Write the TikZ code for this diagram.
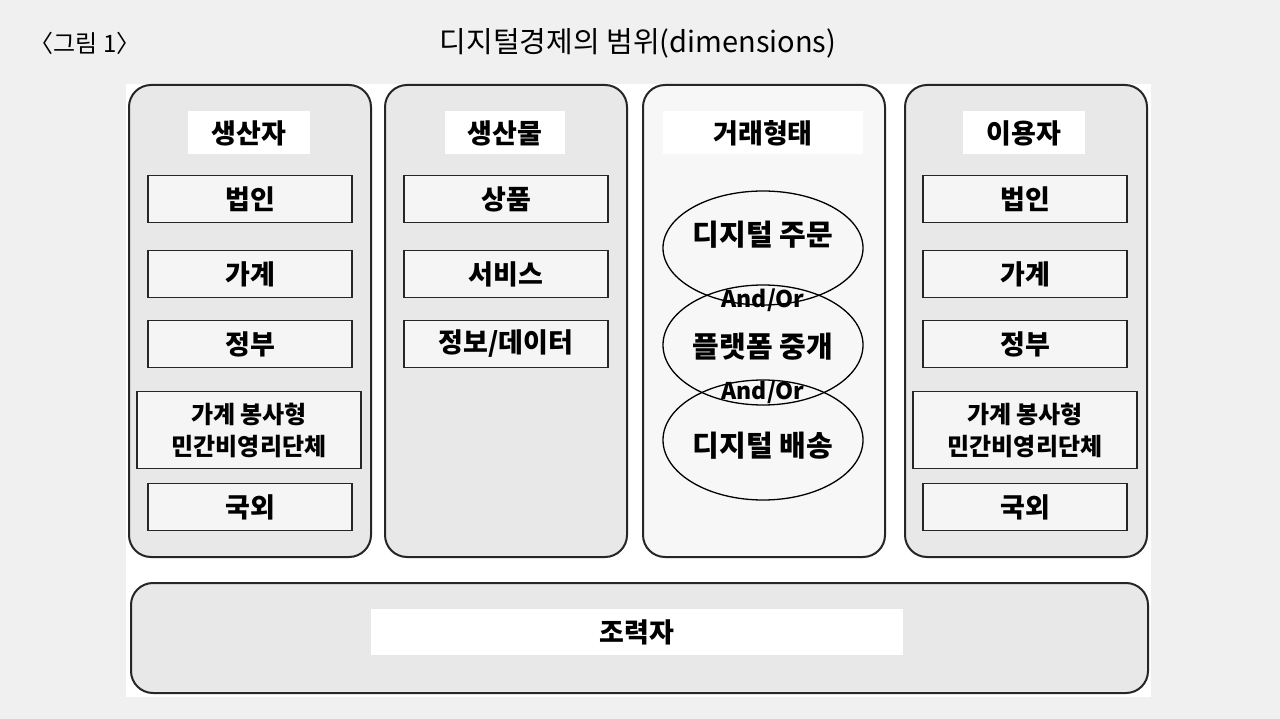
\documentclass[tikz,border=0pt]{standalone}
\usepackage{fontspec}
\setmainfont{Noto Sans CJK KR}
\begin{document}
\begin{tikzpicture}[x=1pt,y=-1pt,
 col/.style={draw=black!85,line width=2pt,rounded corners=22pt},
 ttl/.style={fill=white,font=\fontsize{27}{30}\selectfont\bfseries},
 item/.style={draw=black!85,line width=1.5pt,fill=white!96!black,minimum width=204pt,minimum height=47pt,font=\fontsize{27}{30}\selectfont\bfseries},
 item2/.style={draw=black!85,line width=1.5pt,fill=white!96!black,minimum width=224pt,minimum height=77pt,align=center,inner sep=2pt,font=\fontsize{24}{32}\selectfont\bfseries},
 etx/.style={font=\fontsize{29}{32}\selectfont\bfseries},
 ao/.style={font=\fontsize{23}{26}\selectfont\bfseries}]
\fill[black!6] (0,0) rectangle (1280,719);
\useasboundingbox (0,0) rectangle (1280,719);
\fill[white] (126,84) rectangle (1151,697);
\node[font=\fontsize{24}{28}\selectfont] (fig) at (85,43) {〈그림 1〉};
\node[font=\fontsize{29}{34}\selectfont] (title) at (638,43) {디지털경제의 범위(dimensions)};
% columns
\draw[col,fill=black!9] (129,85) rectangle (371,557);
\draw[col,fill=black!9] (385,85) rectangle (627,557);
\draw[col,fill=black!3] (643,85) rectangle (885,557);
\draw[col,fill=black!9] (905,85) rectangle (1147,557);
\draw[col,fill=black!9] (131,583) rectangle (1148,693);
% titles
\node[ttl,minimum width=122pt,minimum height=43pt] (t1) at (249,133) {생산자};
\node[ttl,minimum width=120pt,minimum height=43pt] (t2) at (505,133) {생산물};
\node[ttl,minimum width=200pt,minimum height=43pt] (t3) at (763,133) {거래형태};
\node[ttl,minimum width=122pt,minimum height=43pt] (t4) at (1024,133) {이용자};
\node[ttl,minimum width=532pt,minimum height=46pt] (t5) at (637,632) {조력자};
% col1
\node[item] (a1) at (250,199) {법인};
\node[item] (a2) at (250,274) {가계};
\node[item] (a3) at (250,344) {정부};
\node[item2] (a4) at (249,430) {가계 봉사형\\민간비영리단체};
\node[item] (a5) at (250,507) {국외};
% col2
\node[item] (b1) at (506,199) {상품};
\node[item] (b2) at (506,274) {서비스};
\node[item] (b3) at (506,344) {정보/데이터};
% col4
\node[item] (d1) at (1025,199) {법인};
\node[item] (d2) at (1025,274) {가계};
\node[item] (d3) at (1025,344) {정부};
\node[item2] (d4) at (1025,430) {가계 봉사형\\민간비영리단체};
\node[item] (d5) at (1025,507) {국외};
% ellipses
\draw[line width=1.3pt] (763,248) ellipse (100 and 57);
\draw[line width=1.3pt] (763,345) ellipse (100 and 60);
\draw[line width=1.3pt] (763,440) ellipse (100 and 60);
\node[etx] (e1) at (763,235) {디지털 주문};
\node[etx] (e2) at (763,347) {플랫폼 중개};
\node[etx] (e3) at (763,446) {디지털 배송};
\node[ao] (o1) at (763,300) {And/Or};
\node[ao] (o2) at (763,392) {And/Or};
\end{tikzpicture}
\end{document}
